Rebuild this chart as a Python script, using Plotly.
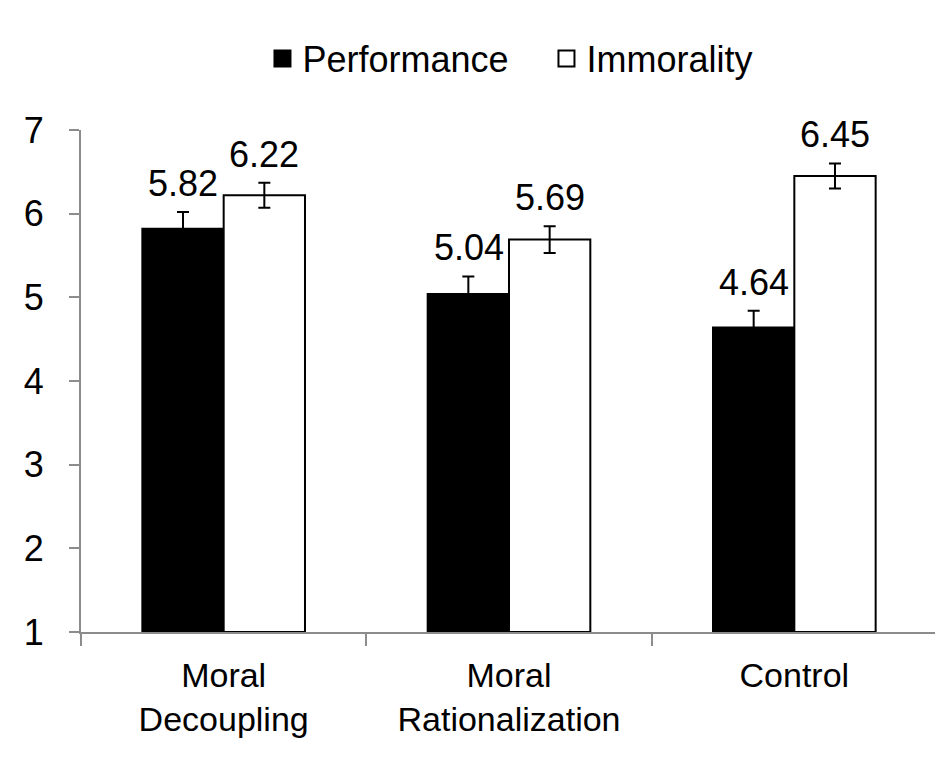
import plotly.graph_objects as go

categories = ["Moral<br>Decoupling", "Moral<br>Rationalization", "Control"]
performance = [5.82, 5.04, 4.64]
performance_err = [0.2, 0.21, 0.2]
immorality = [6.22, 5.69, 6.45]
immorality_err = [0.15, 0.16, 0.15]
y_ticks = [1, 2, 3, 4, 5, 6, 7]

FONT = "Liberation Sans, Arial, sans-serif"
AXIS_GRAY = "#8c8c8c"

fig = go.Figure()
fig.add_trace(go.Bar(
    name="Performance", x=categories, y=[v - 1 for v in performance], base=1,
    marker=dict(color="black", line=dict(color="black", width=2)),
    error_y=dict(type="data", array=performance_err, color="black", thickness=2, width=6),
    showlegend=False,
))
fig.add_trace(go.Bar(
    name="Immorality", x=categories, y=[v - 1 for v in immorality], base=1,
    marker=dict(color="white", line=dict(color="black", width=2)),
    error_y=dict(type="data", array=immorality_err, color="black", thickness=2, width=6),
    showlegend=False,
))
# legend-only entries with larger square swatches
for name, col in [("Performance", "black"), ("Immorality", "white")]:
    fig.add_trace(go.Scatter(
        name=name, x=[None], y=[None], mode="markers",
        marker=dict(symbol="square", size=18, color=col, line=dict(color="black", width=2)),
    ))

annotations = []
for vals, errs, shift in [(performance, performance_err, -1), (immorality, immorality_err, 1)]:
    for c, v, e in zip(categories, vals, errs):
        annotations.append(dict(
            x=c, y=v + e, xref="x", yref="y", text=f"{v:.2f}", showarrow=False,
            xshift=shift * 40.5, yanchor="bottom", yshift=6,
            font=dict(family=FONT, size=36, color="black"),
        ))

# page body has an 8px default margin, so the figure is sized 8px smaller
fig.update_layout(
    width=935, height=756,
    margin=dict(l=73, r=6, t=122, b=132, autoexpand=False),
    paper_bgcolor="white", plot_bgcolor="white",
    barmode="group", bargap=0.43, bargroupgap=0,
    font=dict(family=FONT, size=34, color="black"),
    showlegend=True,
    legend=dict(orientation="h", x=0.212, xanchor="left", y=1.1424, yanchor="middle",
                font=dict(family=FONT, size=36, color="black"), entrywidth=239,
                bgcolor="rgba(0,0,0,0)"),
    annotations=annotations,
    xaxis=dict(showline=True, linecolor=AXIS_GRAY, linewidth=2, ticks="outside",
               tickson="boundaries", ticklen=12, tickcolor=AXIS_GRAY, tickwidth=2,
               showgrid=False, ticklabelstandoff=12,
               tickfont=dict(family=FONT, size=34, color="black")),
    yaxis=dict(range=[1, 7], tickvals=y_ticks, showline=True, linecolor=AXIS_GRAY, linewidth=2,
               ticks="outside", ticklen=10, tickcolor=AXIS_GRAY, tickwidth=2, showgrid=False,
               zeroline=False, ticklabelstandoff=18,
               tickfont=dict(family=FONT, size=36, color="black")),
)

fig.write_html("out.html")
